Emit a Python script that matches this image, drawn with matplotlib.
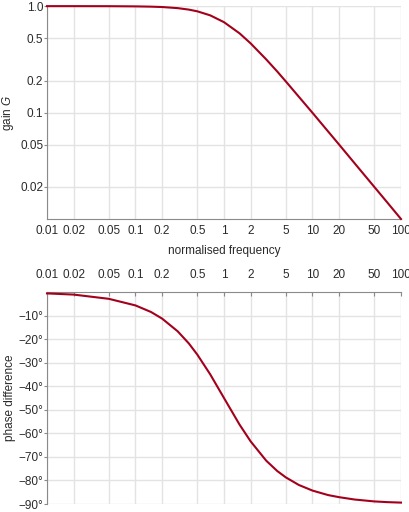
import numpy as np
import matplotlib
matplotlib.use("Agg")
import matplotlib.pyplot as plt
from matplotlib.ticker import FixedLocator, FixedFormatter, NullLocator

plt.rcParams['font.family'] = ['Liberation Sans', 'DejaVu Sans']
plt.rcParams['mathtext.fontset'] = 'custom'
plt.rcParams['mathtext.it'] = 'Liberation Sans:italic'
plt.rcParams['mathtext.rm'] = 'Liberation Sans'

# values
freq = [0.01, 0.02, 0.05, 0.1, 0.15, 0.2, 0.3, 0.4, 0.5, 0.7, 1.0, 1.5, 2.0,
        3.0, 4.0, 5.0, 7.0, 10.0, 15.0, 20.0, 30.0, 50.0, 70.0, 100.0]
gain = [1.0, 1.0, 0.999, 0.995, 0.989, 0.981, 0.958, 0.928, 0.894, 0.819,
        0.707, 0.555, 0.447, 0.316, 0.243, 0.196, 0.141, 0.0995, 0.0665,
        0.05, 0.0333, 0.02, 0.0143, 0.01]
phase = [-0.6, -1.1, -2.9, -5.7, -8.5, -11.3, -16.7, -21.8, -26.6, -35.0,
         -45.0, -56.3, -63.4, -71.6, -76.0, -78.7, -81.9, -84.3, -86.2,
         -87.1, -88.1, -88.9, -89.2, -89.4]

x_ticks = [0.01, 0.02, 0.05, 0.1, 0.2, 0.5, 1, 2, 5, 10, 20, 50, 100]
x_labels = ["0.01", "0.02", "0.05", "0.1", "0.2", "0.5", "1", "2", "5",
            "10", "20", "50", "100"]
g_ticks = [0.02, 0.05, 0.1, 0.2, 0.5, 1.0]
g_labels = ["0.02", "0.05", "0.1", "0.2", "0.5", "1.0"]
p_ticks = [-10, -20, -30, -40, -50, -60, -70, -80, -90]
p_labels = ["\u2212%d°" % abs(v) for v in p_ticks]

line_color = "#a3001c"
grid_color = "#e3e3e3"
spine_color = "#8a8a8a"
text_color = "#2a2a2a"
fs = 8.5
ylabel_x = -0.087

fig = plt.figure(figsize=(4.1, 5.12), dpi=100)
ax1 = fig.add_axes([0.1146, 0.5723, 0.8634, 0.4157])
ax2 = fig.add_axes([0.1146, 0.0156, 0.8634, 0.4141])


def style(ax):
    ax.set_xscale("log")
    ax.set_xlim(0.01, 100)
    ax.xaxis.set_major_locator(FixedLocator(x_ticks))
    ax.xaxis.set_major_formatter(FixedFormatter(x_labels))
    ax.xaxis.set_minor_locator(NullLocator())
    ax.grid(True, color=grid_color, linewidth=1.0)
    ax.set_axisbelow(True)
    for s in ["top", "right", "bottom", "left"]:
        ax.spines[s].set_visible(False)
    ax.spines["left"].set_visible(True)
    ax.spines["left"].set_color(spine_color)
    ax.tick_params(labelsize=fs, colors=text_color)
    ax.tick_params(axis="y", length=2.2, color=spine_color, pad=0.5)


# gain
style(ax1)
ax1.plot(freq, gain, color=line_color, linewidth=1.5, clip_on=False, zorder=3)
ax1.set_yscale("log")
ax1.set_ylim(0.01, 1.0)
ax1.yaxis.set_major_locator(FixedLocator(g_ticks))
ax1.yaxis.set_major_formatter(FixedFormatter(g_labels))
ax1.yaxis.set_minor_locator(NullLocator())
ax1.spines["bottom"].set_visible(True)
ax1.spines["bottom"].set_color(spine_color)
ax1.tick_params(axis="x", length=0, pad=4)
ax1.set_ylabel("gain $G$", fontsize=fs, color=text_color)
ax1.yaxis.set_label_coords(ylabel_x, 0.5)
ax1.set_xlabel("normalised frequency", fontsize=fs, labelpad=6,
               color=text_color)

# phase
style(ax2)
ax2.plot(freq, phase, color=line_color, linewidth=1.5, clip_on=False, zorder=3)
ax2.set_ylim(-90, 0)
ax2.yaxis.set_major_locator(FixedLocator(p_ticks))
ax2.yaxis.set_major_formatter(FixedFormatter(p_labels))
ax2.xaxis.tick_top()
ax2.spines["top"].set_visible(True)
ax2.spines["top"].set_color(spine_color)
ax2.tick_params(axis="x", direction="in", length=3, color=spine_color, pad=8)
ax2.set_ylabel("phase difference", fontsize=fs, color=text_color)
ax2.yaxis.set_label_coords(ylabel_x, 0.5)

fig.savefig("out.png", dpi=100)
